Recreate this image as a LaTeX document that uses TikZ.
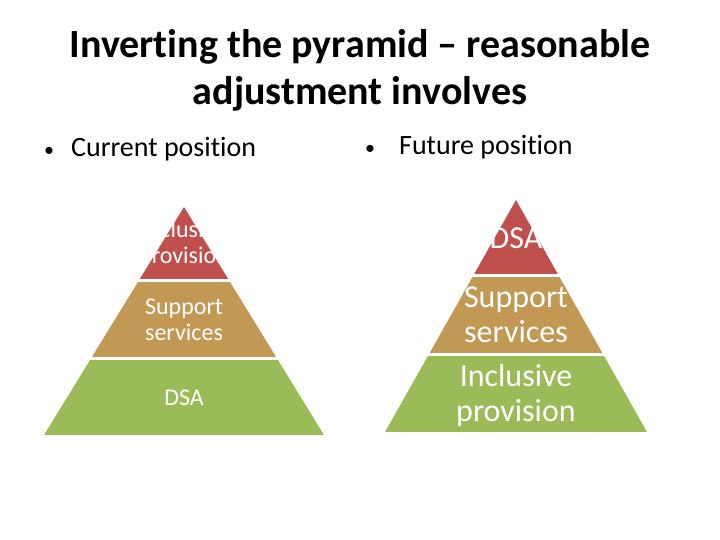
\documentclass[tikz,border=0pt]{standalone}
\usepackage{fontspec}
\setmainfont{Carlito}[Ligatures=CommonOff]
\usepackage{tikz}
\usetikzlibrary{positioning}

\definecolor{bandred}{RGB}{192,80,77}
\definecolor{bandtan}{RGB}{193,152,84}
\definecolor{bandgreen}{RGB}{155,187,89}

\begin{document}
\begin{tikzpicture}[x=1pt, y=-1pt,
  lab/.style={text=white, align=center, inner sep=0pt},
  small/.style={lab, font=\fontsize{24}{26}\selectfont},
  big/.style={lab, font=\fontsize{32}{35}\selectfont},
  bullet/.style={anchor=base west, inner sep=0pt, font=\fontsize{28}{32}\selectfont}]
  \useasboundingbox (0,0) rectangle (720,540);
  % title
  \node[align=center, font=\bfseries\fontsize{40}{47}\selectfont] (title) at (360,70)
    {Inverting the pyramid -- reasonable\\adjustment involves};
  % bullets
  \node[bullet] (cur) at (44,157) {{\fontsize{20}{20}\selectfont\textbullet}\hspace{17pt}Current position};
  \node[bullet] (fut) at (365,155) {{\fontsize{20}{20}\selectfont\textbullet}\hspace{24pt}Future position};
  % current pyramid
  \begin{scope}
    \clip (184,207) -- (44,435) -- (324,435) -- cycle;
    \fill[bandred] (0,0) rectangle (720,279);
    \fill[bandtan] (0,282) rectangle (720,357);
    \fill[bandgreen] (0,360) rectangle (720,435);
  \end{scope}
  \node[small] (ctop) at (184,244) {Inclusive\\provision};
  \node[small] (cmid) at (184,320) {Support\\services};
  \node[small] (cbase) at (184,398) {DSA};
  % future pyramid
  \begin{scope}
    \clip (516,200) -- (385,432) -- (647,432) -- cycle;
    \fill[bandred] (0,0) rectangle (720,274);
    \fill[bandtan] (0,277) rectangle (720,353);
    \fill[bandgreen] (0,356) rectangle (720,432);
  \end{scope}
  \node[big] (ftop) at (516,238) {DSA};
  \node[big] (fmid) at (516,315) {Support\\services};
  \node[big] (fbase) at (516,395) {Inclusive\\provision};
\end{tikzpicture}
\end{document}
